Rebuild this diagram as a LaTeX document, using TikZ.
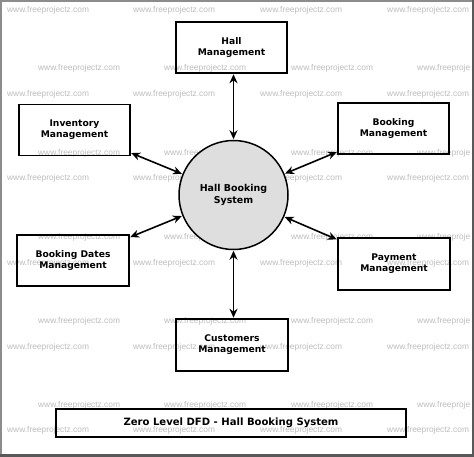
\documentclass[tikz,border=0pt]{standalone}
\usepackage{fontspec}
\setmainfont{DejaVu Sans}
\newfontfamily\wmfont{Liberation Sans}
\usetikzlibrary{arrows.meta}
\tikzset{
  ent/.style={draw=black, line width=1.5pt, minimum width=111bp, minimum height=51bp, inner sep=2pt, align=center, font=\fontsize{9.2}{11}\selectfont\bfseries},
  proc/.style={circle, draw=black, line width=1.5pt, fill=black!13, minimum size=109bp, align=center, font=\fontsize{9.5}{12}\selectfont\bfseries},
  flow/.style={line width=1.6pt, {Stealth[length=9bp,width=8bp]}-{Stealth[length=9bp,width=8bp]}, shorten <=0.5pt, shorten >=0.5pt},
  wm/.style={anchor=west, inner sep=0pt, text=black!26, font=\fontsize{8.4}{10}\wmfont}
}
\begin{document}
\begin{tikzpicture}[x=1bp,y=-1bp]
\useasboundingbox (0,0) rectangle (474,457);
\fill[white] (0,0) rectangle (474,457);
% frame
\fill[black!45] (0,0) rectangle (474,2);
\fill[black!45] (0,0) rectangle (2,457);
\fill[black!65] (471.5,0) rectangle (474,457);
\fill[black!65] (0,454) rectangle (474,457);
% watermarks
\foreach \yy in {10,94,178,263,347,430} {
  \foreach \xx in {7,133,260,387} {
    \node[wm] (wa\xx-\yy) at (\xx,\yy) {www.freeprojectz.com};
  }
}
\foreach \yy in {68,153,237,321,405} {
  \foreach \xx in {38,164,291} {
    \node[wm] (wb\xx-\yy) at (\xx,\yy) {www.freeprojectz.com};
  }
  \node[wm] (wbr-\yy) at (417,\yy) {www.freeproje};
}
% nodes
\node[proc] (sys) at (233.5,195) {Hall Booking\\System};
\node[ent] (hall) at (231.5,47.5) {Hall\\Management};
\node[ent] (inv) at (74.5,129.8) {Inventory\\Management};
\node[ent] (book) at (393.5,128.5) {Booking\\Management};
\node[ent, minimum width=112bp] (dates) at (73,260.4) {Booking Dates\\Management};
\node[ent, minimum width=112bp, minimum height=52bp] (pay) at (394,264) {Payment\\Management};
\node[ent, minimum width=112bp, minimum height=52bp] (cust) at (232,345) {Customers\\Management};
\node[draw=black, line width=1.5pt, minimum width=350bp, minimum height=28bp, font=\fontsize{10.1}{12}\selectfont\bfseries] (title) at (231,423) {Zero Level DFD - Hall Booking System};
% flows
\draw[flow] (hall.south -| sys.north) -- (sys.north);
\draw[flow] (inv) -- (sys);
\draw[flow] (book) -- (sys);
\draw[flow] (dates) -- (sys);
\draw[flow] (pay) -- (sys);
\draw[flow] (cust.north -| sys.south) -- (sys.south);
\end{tikzpicture}
\end{document}
